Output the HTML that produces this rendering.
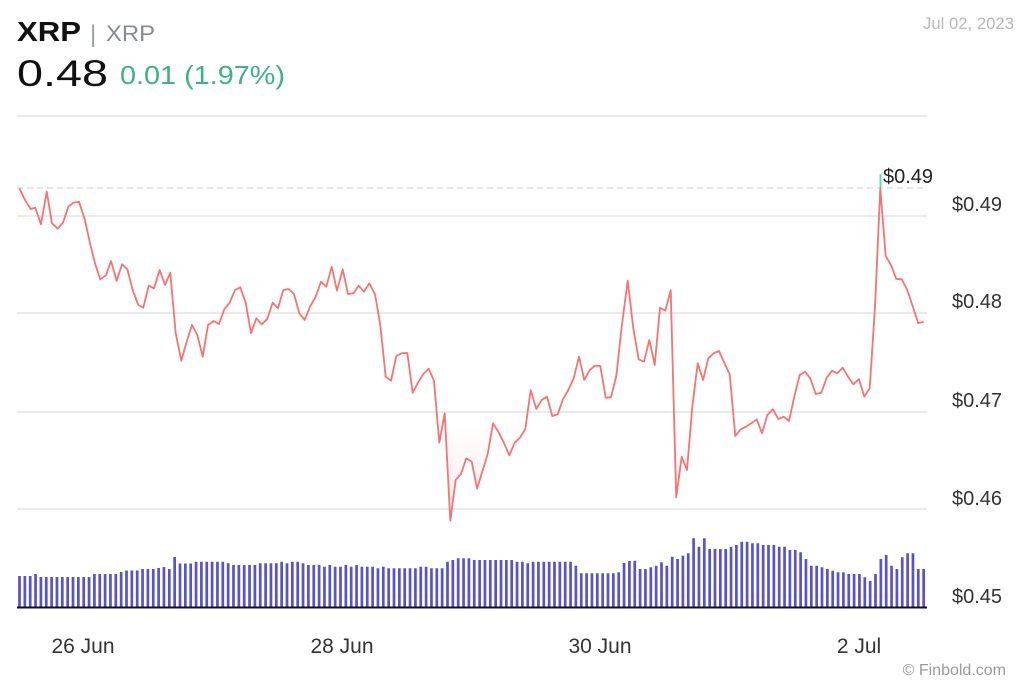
<!DOCTYPE html>
<html><head><meta charset="utf-8"><style>
html,body{margin:0;padding:0;background:#fff;}
svg{display:block;}
text{font-family:"Liberation Sans",sans-serif;}
</style></head><body>
<svg width="1024" height="683" viewBox="0 0 1024 683" xmlns="http://www.w3.org/2000/svg">
<defs>
<linearGradient id="fg" gradientUnits="userSpaceOnUse" x1="0" y1="425" x2="0" y2="525">
<stop offset="0" stop-color="#f87171" stop-opacity="0"/>
<stop offset="1" stop-color="#f87171" stop-opacity="0.16"/>
</linearGradient>
</defs>
<rect width="1024" height="683" fill="#fff"/>
<!-- header -->
<text x="17" y="41" font-size="28" font-weight="bold" fill="#111" textLength="64" lengthAdjust="spacingAndGlyphs">XRP</text>
<text x="90" y="42" font-size="24" fill="#9aa0a8">|</text>
<text x="106" y="41" font-size="22" fill="#868c94" textLength="49" lengthAdjust="spacingAndGlyphs">XRP</text>
<text x="17" y="86" font-size="37" fill="#111" textLength="91" lengthAdjust="spacingAndGlyphs">0.48</text>
<text x="120" y="84" font-size="26" fill="#3cb482" textLength="165" lengthAdjust="spacingAndGlyphs">0.01 (1.97%)</text>
<text x="1014" y="29" font-size="16.5" fill="#b8b8b8" text-anchor="end" textLength="91" lengthAdjust="spacingAndGlyphs">Jul 02, 2023</text>
<!-- grid -->
<g stroke="#e4e4e4" stroke-width="1.5">
<line x1="17" y1="116" x2="927" y2="116"/>
<line x1="17" y1="216" x2="927" y2="216"/>
<line x1="17" y1="313" x2="927" y2="313"/>
<line x1="17" y1="412" x2="927" y2="412"/>
<line x1="17" y1="509" x2="927" y2="509"/>
</g>
<line x1="17" y1="188" x2="927" y2="188" stroke="#d6d6d6" stroke-width="1.2" stroke-dasharray="6 4"/>
<!-- axis labels -->
<g font-size="20" fill="#333">
<text x="952" y="211">$0.49</text>
<text x="952" y="308">$0.48</text>
<text x="952" y="407">$0.47</text>
<text x="952" y="505">$0.46</text>
<text x="952" y="603">$0.45</text>
</g>
<g font-size="21" fill="#333" text-anchor="middle">
<text x="83" y="653">26 Jun</text>
<text x="342" y="653">28 Jun</text>
<text x="600" y="653">30 Jun</text>
<text x="859" y="653">2 Jul</text>
</g>
<text x="1006" y="675" font-size="16" fill="#9a9a9a" text-anchor="end">© Finbold.com</text>
<!-- volume bars -->
<path stroke="#5852cc" stroke-width="2.7" fill="none" d="M19.5 607V576M24.85 607V576M30.2 607V576M35.55 607V574M40.9 607V577M46.25 607V577M51.6 607V577M56.95 607V577M62.3 607V577M67.65 607V577M73 607V577M78.35 607V577M83.7 607V577M89.05 607V577M94.4 607V574M99.75 607V574M105.1 607V574M110.45 607V574M115.8 607V574M121.15 607V572M126.5 607V570.5M131.85 607V570.5M137.2 607V570.5M142.55 607V569M147.9 607V569M153.25 607V569M158.6 607V568M163.95 607V567M169.3 607V569M174.65 607V557M180 607V563.5M185.35 607V563.5M190.7 607V563.5M196.05 607V561.7M201.4 607V561.7M206.75 607V561.7M212.1 607V561.7M217.45 607V561.7M222.8 607V561.7M228.15 607V563.3M233.5 607V565M238.85 607V565M244.2 607V565M249.55 607V565M254.9 607V565M260.25 607V563.3M265.6 607V563.3M270.95 607V563.3M276.3 607V563.3M281.65 607V561.7M287 607V563.3M292.35 607V561.7M297.7 607V561.7M303.05 607V563.3M308.4 607V565M313.75 607V565M319.1 607V565M324.45 607V566.7M329.8 607V565M335.15 607V566.7M340.5 607V566.7M345.85 607V565M351.2 607V566.7M356.55 607V565M361.9 607V566.7M367.25 607V566.7M372.6 607V566.7M377.95 607V568.3M383.3 607V566.7M388.65 607V568.3M394 607V568.3M399.35 607V568.3M404.7 607V568.3M410.05 607V568.3M415.4 607V568.3M420.75 607V566.7M426.1 607V566.7M431.45 607V568.3M436.8 607V568.3M442.15 607V568.3M447.5 607V561.7M452.85 607V560M458.2 607V558.3M463.55 607V558.3M468.9 607V558.3M474.25 607V560M479.6 607V560M484.95 607V560M490.3 607V560M495.65 607V560M501 607V560M506.35 607V560M511.7 607V560M517.05 607V561.7M522.4 607V561.7M527.75 607V563.3M533.1 607V561.7M538.45 607V561.7M543.8 607V561.7M549.15 607V561.7M554.5 607V561.7M559.85 607V561.7M565.2 607V561.7M570.55 607V561.7M575.9 607V565.7M581.25 607V573.3M586.6 607V573.3M591.95 607V573.3M597.3 607V573.3M602.65 607V573.3M608 607V573.3M613.35 607V573.3M618.7 607V572.3M624.05 607V563M629.4 607V561M634.75 607V560.7M640.1 607V569M645.45 607V569M650.8 607V567.3M656.15 607V565.7M661.5 607V562.3M666.85 607V565.7M672.2 607V556.7M677.55 607V559M682.9 607V555.7M688.25 607V553.3M693.6 607V538.3M698.95 607V546.7M704.3 607V538.3M709.65 607V549M715 607V549M720.35 607V549M725.7 607V549M731.05 607V546.7M736.4 607V545M741.75 607V541.7M747.1 607V541.7M752.45 607V543.3M757.8 607V543.3M763.15 607V545M768.5 607V545M773.85 607V545M779.2 607V546.7M784.55 607V546.7M789.9 607V550M795.25 607V550M800.6 607V552.3M805.95 607V559M811.3 607V565.7M816.65 607V565.7M822 607V567.3M827.35 607V569M832.7 607V570.7M838.05 607V572.3M843.4 607V572.3M848.75 607V574M854.1 607V574M859.45 607V574M864.8 607V577.3M870.15 607V581M875.5 607V574M880.85 607V559M886.2 607V555M891.55 607V565.7M896.9 607V569M902.25 607V557.3M907.6 607V553.3M912.95 607V553.3M918.3 607V569M923.65 607V569"/>
<line x1="17" y1="607.5" x2="927" y2="607.5" stroke="#111" stroke-width="2"/>
<!-- price fill + line -->
<polygon fill="url(#fg)" points="19.3,188.3 25,200 30.7,209 35.3,207.7 41,224.3 46.7,191.7 52,223.3 57.7,228.7 63,222.7 68.3,206.7 73.3,202.7 79,201.7 84.7,219.3 90,243.3 95,263.3 100.3,279.3 106,275.3 111,261 116.7,281 122,264.3 127.3,269 132.7,290 138.3,305 143.3,307.7 148.7,285.7 154,288.3 159.7,270 165,285 170.3,272.7 175.7,333.3 181.3,360.7 186.7,341.7 192,325 197.3,335 202.7,356.7 208,325 213.7,321 219,324 224.3,309.3 229.7,302.7 235,290 240.3,287.3 245.7,302.7 251,333.3 256.3,318.3 261.7,324.3 267,319.3 272.7,302.7 278,308.3 283.3,290 288.7,289 294,294 299.3,313.3 304.7,320 310,306.7 315.7,296.7 321,281.7 326.3,286.7 331.7,266.7 337,290.7 342.7,269.3 348,294 353.3,293.3 358.7,285.7 364,291.7 369.3,283.3 375,294.3 380.3,325 385.7,376.7 391,380.7 396.3,356 401.7,353.3 407.3,353 412.7,392.7 418,382.7 423.3,374 428.7,368.7 434,380.7 439.3,442.7 444.7,413.3 450.3,520.7 455.7,480 461,474 466.3,458.3 471.7,461.7 477,488.7 482.3,471.7 487.7,454 493,423.3 498.3,431.7 503.7,442.3 509.3,455.3 514.7,442.7 520,437.7 525.3,429 530.7,390 536.3,409 541.7,400 547,396.7 552.3,416 557.7,414.3 563,399.3 568.3,390 573.7,378.3 579,356.7 584.3,380 589.7,370 595,365.7 600.3,366 605.7,397.7 611,397.3 616.3,376 621.7,326.7 627.7,280.7 633.3,328.3 638.7,359.3 644,361.7 649.3,340 654.7,365 660,307.7 665.3,310.7 670.7,290.3 676.2,497.3 681.7,456.7 687,470 692.3,406.7 697.7,363.3 703,380 708.3,358.3 713.7,353.3 719,351 724.3,362.7 729.7,374.3 735.3,436 740.7,429.3 746,426.7 751.3,423.3 756.7,419.3 762,433.3 767.3,415 773,409.3 778.3,419 783.7,416.7 789,421 794.3,396.7 799.7,375 805,371.7 810.3,378.3 815.7,394 821.3,392.7 826.7,377.7 832,370.7 837.3,373.3 842.7,367.7 848,376.7 853.3,384.3 859,379 864.3,396.7 869.7,388.3 875,306.7 880.3,188.3 885.7,256 891,265 896.3,279 901.7,279.3 907,289.3 912.3,305 918.3,323.3 923.7,321.7 923.7,116 19.3,116"/>
<polyline fill="none" stroke="#f77373" stroke-width="1.8" stroke-linejoin="round" points="19.3,188.3 25,200 30.7,209 35.3,207.7 41,224.3 46.7,191.7 52,223.3 57.7,228.7 63,222.7 68.3,206.7 73.3,202.7 79,201.7 84.7,219.3 90,243.3 95,263.3 100.3,279.3 106,275.3 111,261 116.7,281 122,264.3 127.3,269 132.7,290 138.3,305 143.3,307.7 148.7,285.7 154,288.3 159.7,270 165,285 170.3,272.7 175.7,333.3 181.3,360.7 186.7,341.7 192,325 197.3,335 202.7,356.7 208,325 213.7,321 219,324 224.3,309.3 229.7,302.7 235,290 240.3,287.3 245.7,302.7 251,333.3 256.3,318.3 261.7,324.3 267,319.3 272.7,302.7 278,308.3 283.3,290 288.7,289 294,294 299.3,313.3 304.7,320 310,306.7 315.7,296.7 321,281.7 326.3,286.7 331.7,266.7 337,290.7 342.7,269.3 348,294 353.3,293.3 358.7,285.7 364,291.7 369.3,283.3 375,294.3 380.3,325 385.7,376.7 391,380.7 396.3,356 401.7,353.3 407.3,353 412.7,392.7 418,382.7 423.3,374 428.7,368.7 434,380.7 439.3,442.7 444.7,413.3 450.3,520.7 455.7,480 461,474 466.3,458.3 471.7,461.7 477,488.7 482.3,471.7 487.7,454 493,423.3 498.3,431.7 503.7,442.3 509.3,455.3 514.7,442.7 520,437.7 525.3,429 530.7,390 536.3,409 541.7,400 547,396.7 552.3,416 557.7,414.3 563,399.3 568.3,390 573.7,378.3 579,356.7 584.3,380 589.7,370 595,365.7 600.3,366 605.7,397.7 611,397.3 616.3,376 621.7,326.7 627.7,280.7 633.3,328.3 638.7,359.3 644,361.7 649.3,340 654.7,365 660,307.7 665.3,310.7 670.7,290.3 676.2,497.3 681.7,456.7 687,470 692.3,406.7 697.7,363.3 703,380 708.3,358.3 713.7,353.3 719,351 724.3,362.7 729.7,374.3 735.3,436 740.7,429.3 746,426.7 751.3,423.3 756.7,419.3 762,433.3 767.3,415 773,409.3 778.3,419 783.7,416.7 789,421 794.3,396.7 799.7,375 805,371.7 810.3,378.3 815.7,394 821.3,392.7 826.7,377.7 832,370.7 837.3,373.3 842.7,367.7 848,376.7 853.3,384.3 859,379 864.3,396.7 869.7,388.3 875,306.7 880.3,188.3 885.7,256 891,265 896.3,279 901.7,279.3 907,289.3 912.3,305 918.3,323.3 923.7,321.7"/>
<!-- high marker -->
<line x1="880.5" y1="174" x2="880.5" y2="188" stroke="#5fdcaa" stroke-width="2"/>
<text x="883" y="183" font-size="20" fill="#222">$0.49</text>
</svg>
</body></html>
